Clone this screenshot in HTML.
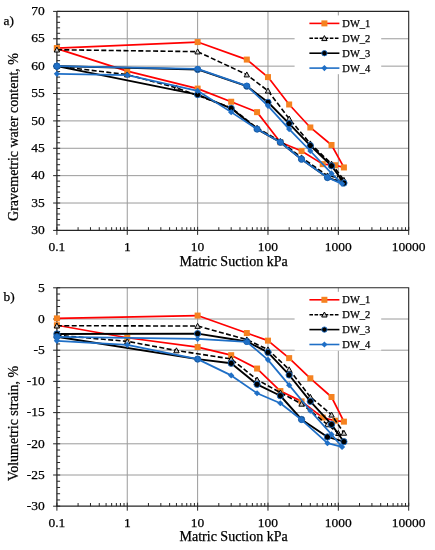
<!DOCTYPE html>
<html><head><meta charset="utf-8"><title>Drying-wetting curves</title>
<style>
html,body{margin:0;padding:0;background:#fff}
svg{display:block}
text{font-family:"Liberation Serif",serif;fill:#000;stroke:#000;stroke-width:0.25px}
</style></head>
<body>
<svg width="435" height="550" viewBox="0 0 435 550">
<rect width="435" height="550" fill="#fff"/>
<line x1="56.9" y1="38.77" x2="408.7" y2="38.77" stroke="#9a9a9a" stroke-width="1"/>
<line x1="56.9" y1="66.15" x2="408.7" y2="66.15" stroke="#9a9a9a" stroke-width="1"/>
<line x1="56.9" y1="93.53" x2="408.7" y2="93.53" stroke="#9a9a9a" stroke-width="1"/>
<line x1="56.9" y1="120.9" x2="408.7" y2="120.9" stroke="#9a9a9a" stroke-width="1"/>
<line x1="56.9" y1="148.28" x2="408.7" y2="148.28" stroke="#9a9a9a" stroke-width="1"/>
<line x1="56.9" y1="175.65" x2="408.7" y2="175.65" stroke="#9a9a9a" stroke-width="1"/>
<line x1="56.9" y1="203.03" x2="408.7" y2="203.03" stroke="#9a9a9a" stroke-width="1"/>
<line x1="127.26" y1="11.4" x2="127.26" y2="230.4" stroke="#9a9a9a" stroke-width="1"/>
<line x1="197.62" y1="11.4" x2="197.62" y2="230.4" stroke="#9a9a9a" stroke-width="1"/>
<line x1="267.98" y1="11.4" x2="267.98" y2="230.4" stroke="#9a9a9a" stroke-width="1"/>
<line x1="338.34" y1="11.4" x2="338.34" y2="230.4" stroke="#9a9a9a" stroke-width="1"/>
<rect x="294.6" y="15.4" width="86.6" height="58.8" fill="#fff"/>
<path d="M56.9 11.4H408.7V230.4" fill="none" stroke="#262626" stroke-width="1.1"/>
<path d="M56.9 11.4V230.4H408.7" fill="none" stroke="#262626" stroke-width="1.3"/>
<path d="M53.1 11.4H60.2M56.9 16.88H60.1M56.9 22.35H60.1M56.9 27.83H60.1M56.9 33.3H60.1M53.1 38.77H60.2M56.9 44.25H60.1M56.9 49.73H60.1M56.9 55.2H60.1M56.9 60.67H60.1M53.1 66.15H60.2M56.9 71.62H60.1M56.9 77.1H60.1M56.9 82.58H60.1M56.9 88.05H60.1M53.1 93.53H60.2M56.9 99H60.1M56.9 104.48H60.1M56.9 109.95H60.1M56.9 115.43H60.1M53.1 120.9H60.2M56.9 126.38H60.1M56.9 131.85H60.1M56.9 137.32H60.1M56.9 142.8H60.1M53.1 148.28H60.2M56.9 153.75H60.1M56.9 159.22H60.1M56.9 164.7H60.1M56.9 170.18H60.1M53.1 175.65H60.2M56.9 181.12H60.1M56.9 186.6H60.1M56.9 192.08H60.1M56.9 197.55H60.1M53.1 203.03H60.2M56.9 208.5H60.1M56.9 213.97H60.1M56.9 219.45H60.1M56.9 224.93H60.1M53.1 230.4H60.2M56.9 226.9V234.9M78.08 227.2V230.4M90.47 227.2V230.4M99.26 227.2V230.4M106.08 227.2V230.4M111.65 227.2V230.4M116.36 227.2V230.4M120.44 227.2V230.4M124.04 227.2V230.4M127.26 226.9V234.9M148.44 227.2V230.4M160.83 227.2V230.4M169.62 227.2V230.4M176.44 227.2V230.4M182.01 227.2V230.4M186.72 227.2V230.4M190.8 227.2V230.4M194.4 227.2V230.4M197.62 226.9V234.9M218.8 227.2V230.4M231.19 227.2V230.4M239.98 227.2V230.4M246.8 227.2V230.4M252.37 227.2V230.4M257.08 227.2V230.4M261.16 227.2V230.4M264.76 227.2V230.4M267.98 226.9V234.9M289.16 227.2V230.4M301.55 227.2V230.4M310.34 227.2V230.4M317.16 227.2V230.4M322.73 227.2V230.4M327.44 227.2V230.4M331.52 227.2V230.4M335.12 227.2V230.4M338.34 226.9V234.9M359.52 227.2V230.4M371.91 227.2V230.4M380.7 227.2V230.4M387.52 227.2V230.4M393.09 227.2V230.4M397.8 227.2V230.4M401.88 227.2V230.4M405.48 227.2V230.4M408.7 226.9V234.9" fill="none" stroke="#262626" stroke-width="1"/>
<text x="44.8" y="15.1" text-anchor="end" font-size="13.5">70</text>
<text x="44.8" y="42.48" text-anchor="end" font-size="13.5">65</text>
<text x="44.8" y="69.85" text-anchor="end" font-size="13.5">60</text>
<text x="44.8" y="97.23" text-anchor="end" font-size="13.5">55</text>
<text x="44.8" y="124.6" text-anchor="end" font-size="13.5">50</text>
<text x="44.8" y="151.97" text-anchor="end" font-size="13.5">45</text>
<text x="44.8" y="179.35" text-anchor="end" font-size="13.5">40</text>
<text x="44.8" y="206.72" text-anchor="end" font-size="13.5">35</text>
<text x="44.8" y="234.1" text-anchor="end" font-size="13.5">30</text>
<text x="56.9" y="250.7" text-anchor="middle" font-size="13.5">0.1</text>
<text x="127.26" y="250.7" text-anchor="middle" font-size="13.5">1</text>
<text x="197.62" y="250.7" text-anchor="middle" font-size="13.5">10</text>
<text x="267.98" y="250.7" text-anchor="middle" font-size="13.5">100</text>
<text x="338.34" y="250.7" text-anchor="middle" font-size="13.5">1000</text>
<text x="408.7" y="250.7" text-anchor="middle" font-size="13.5">10000</text>
<text x="233.6" y="265.6" text-anchor="middle" font-size="14">Matric Suction kPa</text>
<text transform="translate(17.8 137) rotate(-90)" text-anchor="middle" font-size="14">Gravemetric water content, %</text>
<text x="3.6" y="25.2" font-size="13.4">a)</text>
<polyline points="56.9,48.08 197.62,42.06 246.8,59.58 267.98,77.1 289.16,104.48 310.34,127.47 331.52,144.99 343.91,167.44 335.12,165.25 322.73,164.15 301.55,151.01 280.37,142.25 257.08,112.14 231.19,101.74 197.62,88.6 127.26,71.08 56.9,48.63" fill="none" stroke="#ff0000" stroke-width="1.7" stroke-linejoin="round"/>
<rect x="53.9" y="45.08" width="6" height="6" fill="#f58220"/>
<rect x="194.62" y="39.06" width="6" height="6" fill="#f58220"/>
<rect x="243.8" y="56.58" width="6" height="6" fill="#f58220"/>
<rect x="264.98" y="74.1" width="6" height="6" fill="#f58220"/>
<rect x="286.16" y="101.48" width="6" height="6" fill="#f58220"/>
<rect x="307.34" y="124.47" width="6" height="6" fill="#f58220"/>
<rect x="328.52" y="141.99" width="6" height="6" fill="#f58220"/>
<rect x="340.91" y="164.44" width="6" height="6" fill="#f58220"/>
<rect x="332.12" y="162.25" width="6" height="6" fill="#f58220"/>
<rect x="319.73" y="161.15" width="6" height="6" fill="#f58220"/>
<rect x="298.55" y="148.01" width="6" height="6" fill="#f58220"/>
<rect x="277.37" y="139.25" width="6" height="6" fill="#f58220"/>
<rect x="254.08" y="109.14" width="6" height="6" fill="#f58220"/>
<rect x="228.19" y="98.74" width="6" height="6" fill="#f58220"/>
<rect x="194.62" y="85.6" width="6" height="6" fill="#f58220"/>
<rect x="124.26" y="68.08" width="6" height="6" fill="#f58220"/>
<rect x="53.9" y="45.63" width="6" height="6" fill="#f58220"/>
<polyline points="56.9,49.73 197.62,51.64 246.8,74.64 267.98,90.79 289.16,118.71 310.34,143.62 331.52,163.88 343.91,180.03 338.34,177.84 327.44,175.65 301.55,157.58 280.37,141.16 257.08,128.02 231.19,107.76 176.44,87.78 127.26,74.64 56.9,66.15" fill="none" stroke="#000" stroke-width="1.6" stroke-linejoin="round" stroke-dasharray="5 2.4"/>
<path d="M56.9 47.02L59.6 52.02L54.2 52.02Z" fill="#c8c8c8" stroke="#000" stroke-width="1"/>
<path d="M197.62 48.94L200.32 53.94L194.92 53.94Z" fill="#c8c8c8" stroke="#000" stroke-width="1"/>
<path d="M246.8 71.94L249.5 76.93L244.1 76.93Z" fill="#c8c8c8" stroke="#000" stroke-width="1"/>
<path d="M267.98 88.09L270.68 93.08L265.28 93.08Z" fill="#c8c8c8" stroke="#000" stroke-width="1"/>
<path d="M289.16 116.01L291.86 121.01L286.46 121.01Z" fill="#c8c8c8" stroke="#000" stroke-width="1"/>
<path d="M310.34 140.92L313.04 145.92L307.64 145.92Z" fill="#c8c8c8" stroke="#000" stroke-width="1"/>
<path d="M331.52 161.18L334.22 166.17L328.82 166.17Z" fill="#c8c8c8" stroke="#000" stroke-width="1"/>
<path d="M343.91 177.33L346.61 182.32L341.21 182.32Z" fill="#c8c8c8" stroke="#000" stroke-width="1"/>
<path d="M338.34 175.14L341.04 180.13L335.64 180.13Z" fill="#c8c8c8" stroke="#000" stroke-width="1"/>
<path d="M327.44 172.95L330.14 177.94L324.74 177.94Z" fill="#c8c8c8" stroke="#000" stroke-width="1"/>
<path d="M301.55 154.88L304.25 159.88L298.85 159.88Z" fill="#c8c8c8" stroke="#000" stroke-width="1"/>
<path d="M280.37 138.46L283.07 143.45L277.67 143.45Z" fill="#c8c8c8" stroke="#000" stroke-width="1"/>
<path d="M257.08 125.32L259.78 130.31L254.38 130.31Z" fill="#c8c8c8" stroke="#000" stroke-width="1"/>
<path d="M231.19 105.06L233.89 110.06L228.49 110.06Z" fill="#c8c8c8" stroke="#000" stroke-width="1"/>
<path d="M176.44 85.08L179.14 90.07L173.74 90.07Z" fill="#c8c8c8" stroke="#000" stroke-width="1"/>
<path d="M127.26 71.94L129.96 76.93L124.56 76.93Z" fill="#c8c8c8" stroke="#000" stroke-width="1"/>
<path d="M56.9 63.45L59.6 68.45L54.2 68.45Z" fill="#c8c8c8" stroke="#000" stroke-width="1"/>
<polyline points="56.9,66.15 197.62,69.44 246.8,86.13 267.98,102.29 289.16,123.64 310.34,145.54 331.52,165.8 343.91,183.04 327.44,177.57 301.55,159.22 280.37,142.25 257.08,129.11 231.19,108.31 197.62,94.62 56.9,66.15" fill="none" stroke="#000" stroke-width="1.9" stroke-linejoin="round"/>
<circle cx="56.9" cy="66.15" r="3.15" fill="#000" stroke="#1f6fc6" stroke-width="0.9"/>
<circle cx="197.62" cy="69.44" r="3.15" fill="#000" stroke="#1f6fc6" stroke-width="0.9"/>
<circle cx="246.8" cy="86.13" r="3.15" fill="#000" stroke="#1f6fc6" stroke-width="0.9"/>
<circle cx="267.98" cy="102.29" r="3.15" fill="#000" stroke="#1f6fc6" stroke-width="0.9"/>
<circle cx="289.16" cy="123.64" r="3.15" fill="#000" stroke="#1f6fc6" stroke-width="0.9"/>
<circle cx="310.34" cy="145.54" r="3.15" fill="#000" stroke="#1f6fc6" stroke-width="0.9"/>
<circle cx="331.52" cy="165.8" r="3.15" fill="#000" stroke="#1f6fc6" stroke-width="0.9"/>
<circle cx="343.91" cy="183.04" r="3.15" fill="#000" stroke="#1f6fc6" stroke-width="0.9"/>
<circle cx="327.44" cy="177.57" r="3.15" fill="#000" stroke="#1f6fc6" stroke-width="0.9"/>
<circle cx="301.55" cy="159.22" r="3.15" fill="#000" stroke="#1f6fc6" stroke-width="0.9"/>
<circle cx="280.37" cy="142.25" r="3.15" fill="#000" stroke="#1f6fc6" stroke-width="0.9"/>
<circle cx="257.08" cy="129.11" r="3.15" fill="#000" stroke="#1f6fc6" stroke-width="0.9"/>
<circle cx="231.19" cy="108.31" r="3.15" fill="#000" stroke="#1f6fc6" stroke-width="0.9"/>
<circle cx="197.62" cy="94.62" r="3.15" fill="#000" stroke="#1f6fc6" stroke-width="0.9"/>
<circle cx="56.9" cy="66.15" r="3.15" fill="#000" stroke="#1f6fc6" stroke-width="0.9"/>
<polyline points="56.9,66.15 197.62,68.89 246.8,85.86 267.98,105.84 289.16,129.11 310.34,151.01 331.52,173.46 342.07,183.86 327.44,177.57 301.55,159.22 280.37,142.25 257.08,129.11 231.19,112.14 197.62,90.79 127.26,75.18 56.9,73.81" fill="none" stroke="#1f6fc6" stroke-width="1.75" stroke-linejoin="round"/>
<path d="M56.9 63.05L60 66.15L56.9 69.25L53.8 66.15Z" fill="#1f6fc6"/>
<path d="M197.62 65.79L200.72 68.89L197.62 71.99L194.52 68.89Z" fill="#1f6fc6"/>
<path d="M246.8 82.76L249.9 85.86L246.8 88.96L243.7 85.86Z" fill="#1f6fc6"/>
<path d="M267.98 102.74L271.08 105.84L267.98 108.94L264.88 105.84Z" fill="#1f6fc6"/>
<path d="M289.16 126.01L292.26 129.11L289.16 132.21L286.06 129.11Z" fill="#1f6fc6"/>
<path d="M310.34 147.91L313.44 151.01L310.34 154.11L307.24 151.01Z" fill="#1f6fc6"/>
<path d="M331.52 170.36L334.62 173.46L331.52 176.56L328.42 173.46Z" fill="#1f6fc6"/>
<path d="M342.07 180.76L345.17 183.86L342.07 186.96L338.97 183.86Z" fill="#1f6fc6"/>
<path d="M327.44 174.47L330.54 177.57L327.44 180.67L324.34 177.57Z" fill="#1f6fc6"/>
<path d="M301.55 156.12L304.65 159.22L301.55 162.32L298.45 159.22Z" fill="#1f6fc6"/>
<path d="M280.37 139.15L283.47 142.25L280.37 145.35L277.27 142.25Z" fill="#1f6fc6"/>
<path d="M257.08 126.01L260.18 129.11L257.08 132.21L253.98 129.11Z" fill="#1f6fc6"/>
<path d="M231.19 109.04L234.29 112.14L231.19 115.24L228.09 112.14Z" fill="#1f6fc6"/>
<path d="M197.62 87.69L200.72 90.79L197.62 93.89L194.52 90.79Z" fill="#1f6fc6"/>
<path d="M127.26 72.08L130.36 75.18L127.26 78.28L124.16 75.18Z" fill="#1f6fc6"/>
<path d="M56.9 70.72L60 73.81L56.9 76.91L53.8 73.81Z" fill="#1f6fc6"/>
<circle cx="56.9" cy="66.15" r="2.7" fill="#1f6fc6"/>
<circle cx="197.62" cy="68.89" r="2.7" fill="#1f6fc6"/>
<circle cx="246.8" cy="85.86" r="2.7" fill="#1f6fc6"/>
<circle cx="327.44" cy="177.57" r="2.7" fill="#1f6fc6"/>
<circle cx="301.55" cy="159.22" r="2.7" fill="#1f6fc6"/>
<circle cx="280.37" cy="142.25" r="2.7" fill="#1f6fc6"/>
<circle cx="257.08" cy="129.11" r="2.7" fill="#1f6fc6"/>
<line x1="309.4" y1="23.4" x2="339.4" y2="23.4" stroke="#ff0000" stroke-width="1.6"/>
<rect x="321.4" y="20.4" width="6" height="6" fill="#f58220"/>
<text x="342.3" y="27" font-size="10.5">DW_1</text>
<line x1="309.4" y1="38.3" x2="339.4" y2="38.3" stroke="#000" stroke-width="1.6" stroke-dasharray="3.6 1.5"/>
<path d="M324.4 35.6L327.1 40.59L321.7 40.59Z" fill="#c8c8c8" stroke="#000" stroke-width="1"/>
<text x="342.3" y="41.9" font-size="10.5">DW_2</text>
<line x1="309.4" y1="53.2" x2="339.4" y2="53.2" stroke="#000" stroke-width="1.6"/>
<circle cx="324.4" cy="53.2" r="2.68" fill="#000" stroke="#1f6fc6" stroke-width="0.9"/>
<text x="342.3" y="56.8" font-size="10.5">DW_3</text>
<line x1="309.4" y1="68.1" x2="339.4" y2="68.1" stroke="#1f6fc6" stroke-width="1.6"/>
<path d="M324.4 65L327.5 68.1L324.4 71.2L321.3 68.1Z" fill="#1f6fc6"/>
<text x="342.3" y="71.7" font-size="10.5">DW_4</text>
<line x1="56.9" y1="319" x2="408.7" y2="319" stroke="#9a9a9a" stroke-width="1"/>
<line x1="56.9" y1="350.2" x2="408.7" y2="350.2" stroke="#9a9a9a" stroke-width="1"/>
<line x1="56.9" y1="381.4" x2="408.7" y2="381.4" stroke="#9a9a9a" stroke-width="1"/>
<line x1="56.9" y1="412.6" x2="408.7" y2="412.6" stroke="#9a9a9a" stroke-width="1"/>
<line x1="56.9" y1="443.8" x2="408.7" y2="443.8" stroke="#9a9a9a" stroke-width="1"/>
<line x1="56.9" y1="475" x2="408.7" y2="475" stroke="#9a9a9a" stroke-width="1"/>
<line x1="127.26" y1="287.8" x2="127.26" y2="506.2" stroke="#9a9a9a" stroke-width="1"/>
<line x1="197.62" y1="287.8" x2="197.62" y2="506.2" stroke="#9a9a9a" stroke-width="1"/>
<line x1="267.98" y1="287.8" x2="267.98" y2="506.2" stroke="#9a9a9a" stroke-width="1"/>
<line x1="338.34" y1="287.8" x2="338.34" y2="506.2" stroke="#9a9a9a" stroke-width="1"/>
<rect x="294.6" y="291.8" width="86.6" height="58.8" fill="#fff"/>
<path d="M56.9 287.8H408.7V506.2" fill="none" stroke="#262626" stroke-width="1.1"/>
<path d="M56.9 287.8V506.2H408.7" fill="none" stroke="#262626" stroke-width="1.3"/>
<path d="M53.1 287.8H60.2M56.9 294.04H60.1M56.9 300.28H60.1M56.9 306.52H60.1M56.9 312.76H60.1M53.1 319H60.2M56.9 325.24H60.1M56.9 331.48H60.1M56.9 337.72H60.1M56.9 343.96H60.1M53.1 350.2H60.2M56.9 356.44H60.1M56.9 362.68H60.1M56.9 368.92H60.1M56.9 375.16H60.1M53.1 381.4H60.2M56.9 387.64H60.1M56.9 393.88H60.1M56.9 400.12H60.1M56.9 406.36H60.1M53.1 412.6H60.2M56.9 418.84H60.1M56.9 425.08H60.1M56.9 431.32H60.1M56.9 437.56H60.1M53.1 443.8H60.2M56.9 450.04H60.1M56.9 456.28H60.1M56.9 462.52H60.1M56.9 468.76H60.1M53.1 475H60.2M56.9 481.24H60.1M56.9 487.48H60.1M56.9 493.72H60.1M56.9 499.96H60.1M53.1 506.2H60.2M56.9 502.7V510.7M78.08 503V506.2M90.47 503V506.2M99.26 503V506.2M106.08 503V506.2M111.65 503V506.2M116.36 503V506.2M120.44 503V506.2M124.04 503V506.2M127.26 502.7V510.7M148.44 503V506.2M160.83 503V506.2M169.62 503V506.2M176.44 503V506.2M182.01 503V506.2M186.72 503V506.2M190.8 503V506.2M194.4 503V506.2M197.62 502.7V510.7M218.8 503V506.2M231.19 503V506.2M239.98 503V506.2M246.8 503V506.2M252.37 503V506.2M257.08 503V506.2M261.16 503V506.2M264.76 503V506.2M267.98 502.7V510.7M289.16 503V506.2M301.55 503V506.2M310.34 503V506.2M317.16 503V506.2M322.73 503V506.2M327.44 503V506.2M331.52 503V506.2M335.12 503V506.2M338.34 502.7V510.7M359.52 503V506.2M371.91 503V506.2M380.7 503V506.2M387.52 503V506.2M393.09 503V506.2M397.8 503V506.2M401.88 503V506.2M405.48 503V506.2M408.7 502.7V510.7" fill="none" stroke="#262626" stroke-width="1"/>
<text x="44.8" y="291.5" text-anchor="end" font-size="13.5">5</text>
<text x="44.8" y="322.7" text-anchor="end" font-size="13.5">0</text>
<text x="44.8" y="353.9" text-anchor="end" font-size="13.5">-5</text>
<text x="44.8" y="385.1" text-anchor="end" font-size="13.5">-10</text>
<text x="44.8" y="416.3" text-anchor="end" font-size="13.5">-15</text>
<text x="44.8" y="447.5" text-anchor="end" font-size="13.5">-20</text>
<text x="44.8" y="478.7" text-anchor="end" font-size="13.5">-25</text>
<text x="44.8" y="509.9" text-anchor="end" font-size="13.5">-30</text>
<text x="56.9" y="526.5" text-anchor="middle" font-size="13.5">0.1</text>
<text x="127.26" y="526.5" text-anchor="middle" font-size="13.5">1</text>
<text x="197.62" y="526.5" text-anchor="middle" font-size="13.5">10</text>
<text x="267.98" y="526.5" text-anchor="middle" font-size="13.5">100</text>
<text x="338.34" y="526.5" text-anchor="middle" font-size="13.5">1000</text>
<text x="408.7" y="526.5" text-anchor="middle" font-size="13.5">10000</text>
<text x="233.6" y="541.4" text-anchor="middle" font-size="14">Matric Suction kPa</text>
<text transform="translate(17.8 423.5) rotate(-90)" text-anchor="middle" font-size="14">Volumetric strain, %</text>
<text x="3.6" y="300.8" font-size="13.4">b)</text>
<polyline points="56.9,318.38 197.62,315.57 246.8,333.04 267.98,340.65 289.16,358.12 310.34,378.28 331.52,397 343.91,421.65 335.12,420.71 322.73,417.59 301.55,401.37 280.37,391.07 257.08,368.55 231.19,355.19 197.62,347.08 127.26,337.72 56.9,325.24" fill="none" stroke="#ff0000" stroke-width="1.7" stroke-linejoin="round"/>
<rect x="53.9" y="315.38" width="6" height="6" fill="#f58220"/>
<rect x="194.62" y="312.57" width="6" height="6" fill="#f58220"/>
<rect x="243.8" y="330.04" width="6" height="6" fill="#f58220"/>
<rect x="264.98" y="337.65" width="6" height="6" fill="#f58220"/>
<rect x="286.16" y="355.12" width="6" height="6" fill="#f58220"/>
<rect x="307.34" y="375.28" width="6" height="6" fill="#f58220"/>
<rect x="328.52" y="394" width="6" height="6" fill="#f58220"/>
<rect x="340.91" y="418.65" width="6" height="6" fill="#f58220"/>
<rect x="332.12" y="417.71" width="6" height="6" fill="#f58220"/>
<rect x="319.73" y="414.59" width="6" height="6" fill="#f58220"/>
<rect x="298.55" y="398.37" width="6" height="6" fill="#f58220"/>
<rect x="277.37" y="388.07" width="6" height="6" fill="#f58220"/>
<rect x="254.08" y="365.55" width="6" height="6" fill="#f58220"/>
<rect x="228.19" y="352.19" width="6" height="6" fill="#f58220"/>
<rect x="194.62" y="344.08" width="6" height="6" fill="#f58220"/>
<rect x="124.26" y="334.72" width="6" height="6" fill="#f58220"/>
<rect x="53.9" y="322.24" width="6" height="6" fill="#f58220"/>
<polyline points="56.9,325.68 197.62,326.05 246.8,339.59 267.98,349.58 289.16,369.54 310.34,397 331.52,414.78 343.91,432.94 338.34,433.19 327.44,424.46 301.55,403.86 280.37,392.63 257.08,379.72 231.19,358.94 176.44,350.51 127.26,341.34 56.9,335.22" fill="none" stroke="#000" stroke-width="1.6" stroke-linejoin="round" stroke-dasharray="5 2.4"/>
<path d="M56.9 322.98L59.6 327.97L54.2 327.97Z" fill="#c8c8c8" stroke="#000" stroke-width="1"/>
<path d="M197.62 323.35L200.32 328.35L194.92 328.35Z" fill="#c8c8c8" stroke="#000" stroke-width="1"/>
<path d="M246.8 336.89L249.5 341.89L244.1 341.89Z" fill="#c8c8c8" stroke="#000" stroke-width="1"/>
<path d="M267.98 346.88L270.68 351.87L265.28 351.87Z" fill="#c8c8c8" stroke="#000" stroke-width="1"/>
<path d="M289.16 366.84L291.86 371.84L286.46 371.84Z" fill="#c8c8c8" stroke="#000" stroke-width="1"/>
<path d="M310.34 394.3L313.04 399.3L307.64 399.3Z" fill="#c8c8c8" stroke="#000" stroke-width="1"/>
<path d="M331.52 412.08L334.22 417.08L328.82 417.08Z" fill="#c8c8c8" stroke="#000" stroke-width="1"/>
<path d="M343.91 430.24L346.61 435.24L341.21 435.24Z" fill="#c8c8c8" stroke="#000" stroke-width="1"/>
<path d="M338.34 430.49L341.04 435.49L335.64 435.49Z" fill="#c8c8c8" stroke="#000" stroke-width="1"/>
<path d="M327.44 421.76L330.14 426.75L324.74 426.75Z" fill="#c8c8c8" stroke="#000" stroke-width="1"/>
<path d="M301.55 401.16L304.25 406.16L298.85 406.16Z" fill="#c8c8c8" stroke="#000" stroke-width="1"/>
<path d="M280.37 389.93L283.07 394.93L277.67 394.93Z" fill="#c8c8c8" stroke="#000" stroke-width="1"/>
<path d="M257.08 377.02L259.78 382.01L254.38 382.01Z" fill="#c8c8c8" stroke="#000" stroke-width="1"/>
<path d="M231.19 356.24L233.89 361.23L228.49 361.23Z" fill="#c8c8c8" stroke="#000" stroke-width="1"/>
<path d="M176.44 347.81L179.14 352.81L173.74 352.81Z" fill="#c8c8c8" stroke="#000" stroke-width="1"/>
<path d="M127.26 338.64L129.96 343.63L124.56 343.63Z" fill="#c8c8c8" stroke="#000" stroke-width="1"/>
<path d="M56.9 332.52L59.6 337.52L54.2 337.52Z" fill="#c8c8c8" stroke="#000" stroke-width="1"/>
<polyline points="56.9,333.98 197.62,333.6 246.8,341.46 267.98,352.38 289.16,374.97 310.34,401.37 331.52,424.46 343.91,441.68 327.44,436.94 301.55,419.46 280.37,395.75 257.08,384.33 231.19,363.3 197.62,359.12 56.9,336.78" fill="none" stroke="#000" stroke-width="1.9" stroke-linejoin="round"/>
<circle cx="56.9" cy="333.98" r="3.15" fill="#000" stroke="#1f6fc6" stroke-width="0.9"/>
<circle cx="197.62" cy="333.6" r="3.15" fill="#000" stroke="#1f6fc6" stroke-width="0.9"/>
<circle cx="246.8" cy="341.46" r="3.15" fill="#000" stroke="#1f6fc6" stroke-width="0.9"/>
<circle cx="267.98" cy="352.38" r="3.15" fill="#000" stroke="#1f6fc6" stroke-width="0.9"/>
<circle cx="289.16" cy="374.97" r="3.15" fill="#000" stroke="#1f6fc6" stroke-width="0.9"/>
<circle cx="310.34" cy="401.37" r="3.15" fill="#000" stroke="#1f6fc6" stroke-width="0.9"/>
<circle cx="331.52" cy="424.46" r="3.15" fill="#000" stroke="#1f6fc6" stroke-width="0.9"/>
<circle cx="343.91" cy="441.68" r="3.15" fill="#000" stroke="#1f6fc6" stroke-width="0.9"/>
<circle cx="327.44" cy="436.94" r="3.15" fill="#000" stroke="#1f6fc6" stroke-width="0.9"/>
<circle cx="301.55" cy="419.46" r="3.15" fill="#000" stroke="#1f6fc6" stroke-width="0.9"/>
<circle cx="280.37" cy="395.75" r="3.15" fill="#000" stroke="#1f6fc6" stroke-width="0.9"/>
<circle cx="257.08" cy="384.33" r="3.15" fill="#000" stroke="#1f6fc6" stroke-width="0.9"/>
<circle cx="231.19" cy="363.3" r="3.15" fill="#000" stroke="#1f6fc6" stroke-width="0.9"/>
<circle cx="197.62" cy="359.12" r="3.15" fill="#000" stroke="#1f6fc6" stroke-width="0.9"/>
<circle cx="56.9" cy="336.78" r="3.15" fill="#000" stroke="#1f6fc6" stroke-width="0.9"/>
<polyline points="56.9,336.78 197.62,338.91 246.8,341.84 267.98,359.87 289.16,385.14 310.34,410.73 331.52,434.44 342.07,446.92 327.44,443.18 301.55,419.78 280.37,403.24 257.08,393.26 231.19,375.41 197.62,359.12 127.26,344.96 56.9,340.84" fill="none" stroke="#1f6fc6" stroke-width="1.75" stroke-linejoin="round"/>
<path d="M56.9 333.68L60 336.78L56.9 339.88L53.8 336.78Z" fill="#1f6fc6"/>
<path d="M197.62 335.81L200.72 338.91L197.62 342.01L194.52 338.91Z" fill="#1f6fc6"/>
<path d="M246.8 338.74L249.9 341.84L246.8 344.94L243.7 341.84Z" fill="#1f6fc6"/>
<path d="M267.98 356.77L271.08 359.87L267.98 362.97L264.88 359.87Z" fill="#1f6fc6"/>
<path d="M289.16 382.04L292.26 385.14L289.16 388.24L286.06 385.14Z" fill="#1f6fc6"/>
<path d="M310.34 407.63L313.44 410.73L310.34 413.83L307.24 410.73Z" fill="#1f6fc6"/>
<path d="M331.52 431.34L334.62 434.44L331.52 437.54L328.42 434.44Z" fill="#1f6fc6"/>
<path d="M342.07 443.82L345.17 446.92L342.07 450.02L338.97 446.92Z" fill="#1f6fc6"/>
<path d="M327.44 440.08L330.54 443.18L327.44 446.28L324.34 443.18Z" fill="#1f6fc6"/>
<path d="M301.55 416.68L304.65 419.78L301.55 422.88L298.45 419.78Z" fill="#1f6fc6"/>
<path d="M280.37 400.14L283.47 403.24L280.37 406.34L277.27 403.24Z" fill="#1f6fc6"/>
<path d="M257.08 390.16L260.18 393.26L257.08 396.36L253.98 393.26Z" fill="#1f6fc6"/>
<path d="M231.19 372.31L234.29 375.41L231.19 378.51L228.09 375.41Z" fill="#1f6fc6"/>
<path d="M197.62 356.02L200.72 359.12L197.62 362.22L194.52 359.12Z" fill="#1f6fc6"/>
<path d="M127.26 341.86L130.36 344.96L127.26 348.06L124.16 344.96Z" fill="#1f6fc6"/>
<path d="M56.9 337.74L60 340.84L56.9 343.94L53.8 340.84Z" fill="#1f6fc6"/>
<circle cx="56.9" cy="336.78" r="2.7" fill="#1f6fc6"/>
<circle cx="246.8" cy="341.84" r="2.7" fill="#1f6fc6"/>
<circle cx="301.55" cy="419.78" r="2.7" fill="#1f6fc6"/>
<circle cx="197.62" cy="359.12" r="2.7" fill="#1f6fc6"/>
<line x1="309.4" y1="299.8" x2="339.4" y2="299.8" stroke="#ff0000" stroke-width="1.6"/>
<rect x="321.4" y="296.8" width="6" height="6" fill="#f58220"/>
<text x="342.3" y="303.4" font-size="10.5">DW_1</text>
<line x1="309.4" y1="314.7" x2="339.4" y2="314.7" stroke="#000" stroke-width="1.6" stroke-dasharray="3.6 1.5"/>
<path d="M324.4 312L327.1 317L321.7 317Z" fill="#c8c8c8" stroke="#000" stroke-width="1"/>
<text x="342.3" y="318.3" font-size="10.5">DW_2</text>
<line x1="309.4" y1="329.6" x2="339.4" y2="329.6" stroke="#000" stroke-width="1.6"/>
<circle cx="324.4" cy="329.6" r="2.68" fill="#000" stroke="#1f6fc6" stroke-width="0.9"/>
<text x="342.3" y="333.2" font-size="10.5">DW_3</text>
<line x1="309.4" y1="344.5" x2="339.4" y2="344.5" stroke="#1f6fc6" stroke-width="1.6"/>
<path d="M324.4 341.4L327.5 344.5L324.4 347.6L321.3 344.5Z" fill="#1f6fc6"/>
<text x="342.3" y="348.1" font-size="10.5">DW_4</text>
</svg>
</body></html>
